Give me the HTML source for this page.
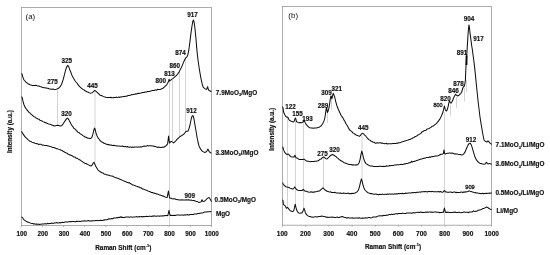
<!DOCTYPE html><html><head><meta charset="utf-8"><title>Raman spectra</title><style>html,body{margin:0;padding:0;background:#fff}svg{display:block}text{font-family:"Liberation Sans",Arial,sans-serif}</style></head><body>
<svg width="550" height="255" viewBox="0 0 550 255">
<rect width="550" height="255" fill="#fff"/>
<line x1="57.5" y1="90" x2="57.5" y2="125.5" stroke="#d3d3d3" stroke-width="1"/>
<line x1="95" y1="91.5" x2="95" y2="162.5" stroke="#d3d3d3" stroke-width="1"/>
<line x1="169.5" y1="80" x2="169.5" y2="225.5" stroke="#d3d3d3" stroke-width="1"/>
<line x1="172.5" y1="80" x2="172.5" y2="141" stroke="#d3d3d3" stroke-width="1"/>
<line x1="179.5" y1="72" x2="179.5" y2="137" stroke="#d3d3d3" stroke-width="1"/>
<line x1="185.5" y1="59" x2="185.5" y2="132" stroke="#d3d3d3" stroke-width="1"/>
<line x1="287.5" y1="118" x2="287.5" y2="208" stroke="#d3d3d3" stroke-width="1"/>
<line x1="295.5" y1="120" x2="295.5" y2="204.5" stroke="#d3d3d3" stroke-width="1"/>
<line x1="303.5" y1="121.5" x2="303.5" y2="208.5" stroke="#d3d3d3" stroke-width="1"/>
<line x1="327.5" y1="106" x2="327.5" y2="123" stroke="#d3d3d3" stroke-width="1"/>
<line x1="331.5" y1="97" x2="331.5" y2="110" stroke="#d3d3d3" stroke-width="1"/>
<line x1="323.5" y1="158" x2="323.5" y2="188" stroke="#d3d3d3" stroke-width="1"/>
<line x1="362" y1="135" x2="362" y2="180" stroke="#d3d3d3" stroke-width="1"/>
<line x1="444.5" y1="112" x2="444.5" y2="224.8" stroke="#d3d3d3" stroke-width="1"/>
<line x1="450.5" y1="105" x2="450.5" y2="115.6" stroke="#d3d3d3" stroke-width="1"/>
<line x1="456.5" y1="97" x2="456.5" y2="108" stroke="#d3d3d3" stroke-width="1"/>
<line x1="464.5" y1="88" x2="464.5" y2="101.6" stroke="#d3d3d3" stroke-width="1"/>
<line x1="466.5" y1="80" x2="466.5" y2="92" stroke="#d3d3d3" stroke-width="1"/>
<rect x="21.5" y="7.5" width="190" height="218.1" fill="none" stroke="#989898" stroke-width="0.8"/>
<rect x="282.5" y="6.4" width="209" height="218.8" fill="none" stroke="#989898" stroke-width="0.8"/>
<path d="M21.8,73.8 L22.2,74.6 L23.0,77.6 L24.0,80.0 L25.0,81.0 L26.0,82.1 L27.0,82.9 L28.0,83.7 L29.0,84.2 L30.0,84.7 L31.0,85.0 L32.0,85.4 L33.0,85.5 L34.0,85.4 L35.0,85.6 L36.0,85.3 L37.0,85.7 L38.0,85.9 L39.0,86.0 L40.0,86.5 L41.0,86.8 L42.0,87.2 L43.0,87.4 L44.0,87.7 L45.0,87.7 L46.0,88.0 L47.0,88.3 L48.0,88.3 L49.0,88.8 L50.0,89.0 L51.0,89.2 L52.0,89.2 L53.0,89.1 L54.0,89.3 L55.0,89.4 L56.0,89.3 L57.0,89.0 L58.5,88.3 L60.0,86.9 L61.5,84.5 L63.0,80.1 L64.4,74.9 L65.6,70.0 L66.8,66.6 L67.8,65.4 L68.7,66.6 L69.6,69.1 L70.8,72.2 L72.0,75.4 L73.0,77.3 L74.0,79.1 L75.0,80.7 L76.0,82.0 L77.0,83.0 L78.0,84.7 L79.0,85.8 L80.0,86.9 L81.0,87.9 L82.0,88.6 L83.0,89.4 L84.0,89.8 L85.0,90.8 L86.0,91.3 L86.8,91.7 L87.7,91.9 L88.5,92.5 L89.5,92.9 L90.6,93.4 L91.8,92.9 L92.9,92.1 L94.0,91.0 L94.8,90.5 L95.8,91.1 L96.9,92.1 L98.5,93.7 L100.0,95.2 L101.0,95.4 L102.0,95.7 L103.0,96.4 L104.0,96.8 L105.0,96.9 L106.0,97.2 L106.8,97.4 L107.6,97.6 L108.4,97.6 L109.2,97.6 L110.0,97.6 L110.8,97.3 L111.6,97.8 L112.4,97.8 L113.2,97.7 L114.0,97.5 L114.8,97.4 L115.6,97.6 L116.4,97.1 L117.2,97.3 L118.0,97.4 L118.8,97.0 L119.6,97.4 L120.4,97.1 L121.2,96.9 L122.0,96.8 L122.8,96.8 L123.6,96.6 L124.4,96.6 L125.2,96.2 L126.0,96.2 L126.8,96.2 L127.6,95.8 L128.4,95.4 L129.2,95.6 L130.0,95.3 L130.8,95.0 L131.7,94.6 L132.5,94.7 L133.3,94.5 L134.2,94.3 L135.0,94.3 L135.8,93.8 L136.7,94.1 L137.5,93.4 L138.3,93.3 L139.2,93.4 L140.0,93.2 L140.8,93.1 L141.7,92.8 L142.5,92.6 L143.3,92.5 L144.2,92.4 L145.0,92.1 L145.8,92.0 L146.7,91.9 L147.5,91.6 L148.3,91.6 L149.2,91.4 L150.0,91.2 L150.8,91.0 L151.7,90.7 L152.5,90.5 L153.3,90.4 L154.2,90.4 L155.0,90.1 L155.8,90.1 L156.7,90.2 L157.5,89.3 L158.3,89.4 L159.2,89.6 L160.0,89.4 L161.2,89.0 L162.3,88.6 L163.2,88.0 L164.2,87.2 L165.2,86.1 L166.2,85.4 L167.6,83.2 L168.6,81.2 L169.1,79.2 L169.6,81.0 L170.4,80.4 L171.4,79.6 L173.0,78.4 L174.5,77.2 L176.0,75.9 L177.5,74.3 L179.0,72.1 L180.5,69.3 L182.0,66.1 L183.5,62.4 L185.0,59.0 L186.0,57.6 L187.0,56.8 L188.0,54.1 L189.0,48.8 L190.0,41.1 L191.0,32.9 L192.0,26.0 L192.8,21.4 L193.4,20.0 L194.0,21.6 L194.8,27.0 L196.0,39.0 L197.0,51.1 L198.0,60.0 L199.0,67.0 L200.0,73.1 L201.0,78.6 L202.4,85.0 L203.2,87.2 L204.0,87.9 L205.2,88.9 L206.4,89.4 L207.0,88.4 L207.6,86.7 L208.1,88.5 L208.6,90.0 L209.8,90.8 L211.0,91.5" fill="none" stroke="#0c0c0c" stroke-width="1.02" stroke-linejoin="round" stroke-linecap="round"/>
<path d="M21.8,97.0 L22.3,98.0 L23.1,101.7 L23.9,104.5 L25.0,107.1 L26.5,109.3 L28.0,111.1 L29.0,112.3 L30.0,113.0 L31.0,114.1 L32.0,114.9 L33.0,115.8 L34.0,116.7 L35.0,117.0 L36.0,118.0 L37.0,118.5 L38.0,119.0 L39.0,119.2 L40.0,120.3 L41.0,120.6 L42.0,121.0 L43.0,121.6 L44.0,122.0 L45.0,122.7 L46.0,122.6 L47.0,123.3 L48.0,123.8 L49.0,124.1 L50.0,124.2 L50.8,124.4 L51.7,125.1 L52.5,125.2 L53.3,125.5 L54.2,126.0 L55.0,126.0 L56.5,125.4 L58.0,125.3 L59.5,125.7 L61.0,126.1 L62.0,125.4 L63.0,124.0 L64.3,122.0 L65.6,120.1 L66.6,118.6 L67.6,118.1 L68.8,119.6 L70.0,122.1 L71.0,124.0 L72.0,125.6 L73.0,126.8 L74.0,128.5 L75.0,129.0 L76.0,130.1 L77.0,131.2 L78.0,132.3 L79.0,132.6 L80.0,133.6 L81.0,134.2 L82.0,134.9 L83.0,135.6 L84.0,136.2 L85.0,137.1 L86.0,137.3 L87.0,137.8 L88.0,138.2 L89.0,138.3 L90.0,138.5 L91.0,138.2 L92.0,137.1 L92.8,134.4 L93.6,131.0 L94.2,128.9 L94.7,128.1 L95.3,130.0 L96.0,133.1 L97.0,135.8 L98.0,137.9 L99.0,139.0 L100.0,140.5 L101.0,141.4 L102.0,142.0 L103.0,142.5 L104.0,143.3 L105.0,143.5 L106.0,144.2 L107.0,144.3 L108.0,144.8 L108.8,144.5 L109.6,145.1 L110.4,145.0 L111.2,144.9 L112.0,145.5 L112.8,145.4 L113.6,145.2 L114.4,145.5 L115.2,145.8 L116.0,145.8 L116.8,146.0 L117.6,146.1 L118.4,146.1 L119.2,146.1 L120.0,146.2 L120.8,146.3 L121.7,146.3 L122.5,146.0 L123.3,146.6 L124.2,146.8 L125.0,146.6 L125.8,146.6 L126.7,147.1 L127.5,146.5 L128.3,147.0 L129.2,147.4 L130.0,146.9 L130.8,147.1 L131.7,147.4 L132.5,147.0 L133.3,147.2 L134.2,147.2 L135.0,147.0 L135.8,147.1 L136.7,147.1 L137.5,147.2 L138.3,147.0 L139.2,147.0 L140.0,146.9 L140.8,146.8 L141.7,146.9 L142.5,146.6 L143.3,146.2 L144.2,146.1 L145.0,146.3 L145.8,146.2 L146.7,146.0 L147.5,145.4 L148.3,145.9 L149.2,145.8 L150.0,145.7 L150.8,145.8 L151.7,145.9 L152.5,146.1 L153.3,145.9 L154.2,146.5 L155.0,146.5 L155.8,146.6 L156.7,147.1 L157.5,147.4 L158.3,147.0 L159.2,147.3 L160.0,147.6 L161.0,147.5 L162.0,147.3 L163.0,147.1 L164.0,147.2 L165.0,146.5 L166.5,145.4 L167.6,143.9 L168.1,140.1 L168.6,136.1 L169.1,140.1 L169.6,143.1 L170.5,141.9 L171.6,141.4 L172.6,142.2 L173.6,142.9 L175.0,141.6 L176.0,140.6 L177.0,139.3 L178.5,138.0 L180.0,136.6 L181.0,136.0 L182.0,135.3 L183.0,134.7 L184.0,134.0 L185.0,132.7 L186.0,131.4 L187.0,131.2 L188.0,131.0 L189.0,128.6 L190.0,125.0 L190.8,121.0 L191.6,117.4 L192.2,116.0 L192.7,115.6 L193.3,116.4 L194.0,119.0 L195.0,125.1 L196.0,131.0 L197.0,137.0 L198.0,142.0 L199.0,145.9 L200.5,148.9 L202.0,151.0 L203.5,151.9 L205.0,152.5 L206.0,151.9 L207.0,150.8 L207.6,149.5 L208.0,149.1 L208.6,150.6 L209.4,151.9 L210.2,152.5 L211.0,153.0" fill="none" stroke="#0c0c0c" stroke-width="1.02" stroke-linejoin="round" stroke-linecap="round"/>
<path d="M21.7,131.6 L22.3,132.8 L23.5,134.6 L24.7,136.4 L25.9,137.7 L26.8,138.4 L27.6,139.3 L28.5,140.1 L29.3,140.7 L30.1,141.2 L31.0,141.4 L31.8,142.1 L32.9,142.6 L33.9,142.8 L35.0,143.3 L35.9,143.5 L36.8,143.8 L37.8,143.8 L38.7,144.5 L39.6,144.3 L40.5,144.3 L41.4,144.6 L42.3,145.2 L43.2,144.9 L44.1,145.3 L45.0,145.4 L45.9,145.5 L46.8,145.4 L47.6,145.9 L48.5,146.1 L49.4,146.3 L50.3,146.6 L51.2,146.8 L52.2,147.2 L53.1,147.4 L54.0,147.6 L54.9,147.9 L55.7,148.2 L56.6,148.7 L57.5,148.7 L58.3,149.1 L59.2,149.5 L60.2,149.7 L61.1,150.3 L62.1,150.5 L63.0,151.2 L64.0,151.8 L64.8,152.3 L65.7,152.7 L66.5,153.1 L67.3,153.3 L68.2,154.3 L69.0,154.4 L69.8,155.0 L70.6,155.0 L71.4,155.6 L72.2,155.7 L73.0,156.5 L73.8,157.0 L74.7,156.9 L75.5,157.7 L76.3,158.2 L77.2,158.2 L78.0,158.9 L78.8,159.3 L79.6,159.8 L80.4,160.2 L81.2,160.9 L82.0,161.4 L82.8,162.0 L83.6,162.4 L84.4,163.0 L85.2,163.4 L86.0,163.5 L86.8,164.0 L87.7,164.3 L88.5,164.9 L89.3,165.3 L90.2,165.7 L91.0,166.0 L92.0,165.2 L93.0,163.5 L93.6,162.6 L94.1,162.4 L94.8,164.0 L95.6,166.0 L96.8,168.1 L98.0,170.1 L99.0,170.8 L100.0,171.5 L101.0,172.3 L102.0,172.8 L103.0,172.9 L104.0,173.9 L104.8,174.2 L105.6,174.2 L106.4,174.8 L107.2,175.0 L108.0,175.1 L108.8,175.3 L109.6,175.5 L110.4,175.8 L111.2,176.0 L112.0,176.0 L112.8,176.2 L113.6,176.7 L114.4,177.1 L115.2,177.6 L116.0,177.8 L116.8,178.0 L117.6,178.2 L118.4,178.6 L119.2,178.9 L120.0,179.2 L120.8,179.6 L121.7,179.9 L122.5,180.4 L123.3,180.8 L124.2,181.0 L125.0,181.6 L125.8,181.7 L126.7,182.3 L127.5,182.4 L128.3,182.9 L129.2,182.6 L130.0,183.3 L130.8,183.8 L131.7,184.2 L132.5,184.9 L133.3,184.9 L134.2,185.4 L135.0,185.6 L135.8,186.0 L136.7,186.3 L137.5,186.5 L138.3,187.0 L139.2,187.1 L140.0,187.7 L140.8,187.8 L141.7,188.3 L142.5,189.0 L143.3,189.0 L144.2,189.4 L145.0,189.8 L145.8,190.0 L146.7,190.2 L147.5,190.7 L148.3,191.1 L149.2,191.5 L150.0,191.6 L150.8,192.3 L151.7,192.6 L152.5,192.6 L153.3,192.9 L154.2,193.0 L155.0,193.5 L155.8,193.5 L156.7,194.1 L157.5,194.1 L158.3,194.3 L159.2,194.9 L160.0,195.1 L160.8,195.3 L161.6,195.4 L162.4,196.0 L163.2,196.1 L164.0,196.4 L165.1,197.0 L166.1,197.3 L167.2,197.5 L167.8,194.2 L168.4,191.0 L169.0,194.6 L169.6,198.0 L170.4,198.2 L171.2,198.1 L172.0,198.7 L172.8,199.0 L173.6,198.7 L174.4,198.8 L175.2,198.9 L176.0,199.5 L176.8,199.5 L177.6,199.7 L178.4,199.8 L179.2,199.9 L180.0,200.0 L180.9,200.1 L181.9,199.8 L182.8,200.0 L183.8,200.0 L184.7,199.9 L185.6,199.9 L186.6,199.7 L187.5,199.9 L188.5,199.8 L189.4,200.0 L190.3,200.2 L191.1,200.1 L192.0,200.3 L193.1,200.4 L194.1,200.6 L195.1,200.9 L196.0,201.3 L197.0,201.5 L197.9,201.9 L198.7,202.4 L199.6,202.2 L200.6,202.0 L201.3,201.6 L201.7,200.3 L202.0,199.8 L202.4,200.6 L202.9,201.6 L204.0,201.2 L205.1,200.7 L206.3,199.5 L207.5,198.3 L208.3,197.9 L209.0,197.5 L209.6,198.1 L210.1,199.1 L210.8,200.3 L211.3,201.4" fill="none" stroke="#0c0c0c" stroke-width="1.02" stroke-linejoin="round" stroke-linecap="round"/>
<path d="M21.8,217.0 L22.4,217.6 L23.0,218.6 L24.1,219.8 L25.1,220.6 L26.0,221.2 L27.1,221.8 L28.1,222.2 L29.1,222.3 L30.0,222.9 L31.0,223.3 L32.0,223.5 L32.8,223.6 L33.6,223.9 L34.4,223.7 L35.2,224.1 L36.0,224.2 L36.8,224.0 L37.6,224.2 L38.4,224.1 L39.2,224.5 L40.0,224.2 L41.0,224.3 L42.0,224.0 L43.0,224.1 L44.0,224.0 L45.0,223.6 L46.0,223.9 L46.8,223.9 L47.6,223.3 L48.4,223.7 L49.2,223.5 L50.0,223.4 L50.8,223.4 L51.7,223.0 L52.5,223.2 L53.3,223.4 L54.2,223.0 L55.0,222.9 L55.8,222.7 L56.7,222.6 L57.5,222.9 L58.3,223.0 L59.2,222.7 L60.0,222.6 L60.9,222.9 L61.7,222.4 L62.6,222.3 L63.4,222.4 L64.3,222.3 L65.1,222.0 L66.0,222.0 L66.9,222.1 L67.7,222.0 L68.6,221.7 L69.4,221.8 L70.3,221.6 L71.1,221.8 L72.0,221.6 L72.9,221.5 L73.8,221.5 L74.6,221.7 L75.5,221.7 L76.4,221.3 L77.2,221.5 L78.1,221.2 L79.0,221.3 L79.9,221.4 L80.8,221.5 L81.6,221.1 L82.5,221.1 L83.4,221.1 L84.2,220.8 L85.1,221.0 L86.0,221.0 L86.9,221.0 L87.8,220.7 L88.6,220.6 L89.5,220.9 L90.4,220.9 L91.2,220.8 L92.1,221.0 L93.0,220.8 L93.9,220.7 L94.8,220.8 L95.6,220.4 L96.5,220.5 L97.4,220.6 L98.2,220.7 L99.1,220.5 L100.0,220.5 L100.8,220.3 L101.6,220.4 L102.4,220.6 L103.2,220.1 L104.0,220.3 L104.8,219.8 L105.6,219.8 L106.4,219.7 L107.2,219.7 L108.0,219.3 L109.0,218.8 L110.0,219.0 L111.0,218.8 L112.0,218.6 L113.0,218.7 L114.0,218.0 L115.0,217.9 L116.0,217.9 L117.0,217.6 L118.0,217.8 L119.0,217.2 L120.0,217.4 L120.8,216.7 L121.7,217.5 L122.5,217.2 L123.3,217.4 L124.2,217.6 L125.0,217.2 L125.8,217.1 L126.7,217.1 L127.5,217.0 L128.3,217.0 L129.2,217.2 L130.0,217.1 L130.8,217.1 L131.7,217.0 L132.5,217.2 L133.3,217.1 L134.2,216.9 L135.0,216.9 L135.8,216.8 L136.7,216.6 L137.5,217.1 L138.3,216.9 L139.2,216.6 L140.0,216.8 L140.8,216.7 L141.7,216.4 L142.5,216.9 L143.3,216.6 L144.2,216.7 L145.0,216.5 L145.8,216.4 L146.7,216.2 L147.5,216.6 L148.3,216.4 L149.2,216.3 L150.0,216.3 L150.8,216.3 L151.7,216.4 L152.5,216.1 L153.3,216.2 L154.2,215.7 L155.0,216.1 L155.8,216.2 L156.7,216.3 L157.5,215.9 L158.3,215.9 L159.2,216.2 L160.0,215.9 L160.8,216.0 L161.6,216.1 L162.4,215.8 L163.2,216.0 L164.0,215.6 L164.9,215.7 L165.9,215.6 L166.9,215.6 L167.8,215.7 L168.4,213.2 L169.0,210.4 L169.5,213.0 L170.1,215.4 L170.9,215.2 L171.7,215.5 L172.6,215.5 L173.4,215.3 L174.2,215.4 L175.0,215.2 L175.8,215.4 L176.7,215.0 L177.5,215.1 L178.3,215.1 L179.2,215.1 L180.0,215.2 L180.8,215.1 L181.7,214.9 L182.5,215.0 L183.3,215.2 L184.2,214.9 L185.0,214.8 L185.8,215.0 L186.7,214.8 L187.5,214.5 L188.3,215.1 L189.2,215.0 L190.0,214.5 L190.8,214.5 L191.7,214.5 L192.5,214.5 L193.3,214.4 L194.2,214.1 L195.0,214.0 L195.8,214.0 L196.7,214.1 L197.5,213.6 L198.3,213.4 L199.2,213.5 L200.0,213.3 L201.0,213.1 L202.0,212.9 L203.0,212.7 L204.0,212.3 L205.0,212.1 L206.0,212.0 L206.8,211.9 L207.7,211.7 L208.5,211.7 L209.3,211.7 L210.2,211.7 L211.0,211.5" fill="none" stroke="#0c0c0c" stroke-width="1.02" stroke-linejoin="round" stroke-linecap="round"/>
<path d="M282.8,107.0 L283.0,107.9 L283.6,112.0 L284.2,113.6 L285.0,115.1 L285.8,116.4 L286.6,117.1 L287.3,117.0 L288.0,117.5 L288.7,119.2 L289.4,120.2 L290.6,120.9 L292.0,121.4 L293.0,122.1 L293.8,121.8 L294.4,120.7 L294.9,118.8 L295.4,118.0 L295.9,119.2 L296.6,121.8 L298.0,122.4 L299.0,122.7 L300.0,122.6 L301.5,122.7 L302.6,122.3 L303.3,121.7 L304.1,120.1 L304.7,121.5 L305.3,122.9 L306.0,124.1 L306.8,125.2 L308.0,126.5 L309.2,127.4 L310.1,127.7 L311.0,127.9 L312.1,128.0 L313.3,128.3 L314.4,128.1 L315.5,128.1 L316.3,128.1 L317.2,127.8 L318.0,127.6 L319.0,127.2 L320.0,126.6 L321.0,126.0 L322.5,124.0 L324.0,120.9 L324.8,118.2 L325.4,114.5 L326.0,109.9 L326.5,107.5 L326.9,110.0 L327.4,112.4 L328.0,111.4 L328.7,108.9 L329.4,105.4 L329.9,102.0 L330.4,98.3 L330.9,95.9 L331.4,96.6 L331.9,98.8 L332.5,96.2 L333.2,93.3 L333.9,94.8 L334.7,97.0 L335.8,101.8 L337.0,106.0 L338.5,109.8 L340.0,113.0 L341.0,115.2 L342.0,116.6 L343.0,118.0 L344.0,120.1 L345.0,121.5 L346.0,123.7 L347.0,125.2 L348.0,127.0 L349.0,128.9 L350.0,130.4 L350.8,130.8 L351.7,131.4 L352.5,132.5 L353.3,133.1 L354.2,133.5 L355.0,134.3 L355.8,134.8 L356.7,135.2 L357.5,135.4 L358.4,135.9 L359.2,136.4 L360.3,135.6 L361.3,134.3 L362.1,133.3 L362.7,133.3 L363.6,133.9 L364.7,135.1 L365.6,135.8 L366.5,137.0 L367.6,138.3 L368.8,139.6 L369.9,140.1 L370.9,141.1 L372.0,141.5 L372.9,142.0 L373.9,142.3 L374.8,142.8 L375.7,143.2 L376.9,142.8 L378.0,143.1 L378.8,143.0 L379.7,142.8 L380.5,142.8 L381.4,143.2 L382.2,143.0 L383.1,143.3 L384.0,143.5 L384.8,143.7 L385.6,143.6 L386.4,143.3 L387.2,144.0 L388.0,143.8 L388.8,143.8 L389.6,143.7 L390.4,143.8 L391.2,143.7 L392.0,143.7 L392.8,143.6 L393.6,143.6 L394.4,143.5 L395.2,143.4 L396.0,143.5 L396.8,143.1 L397.6,143.3 L398.4,142.8 L399.2,142.8 L400.0,142.7 L400.8,142.4 L401.6,141.9 L402.4,141.8 L403.2,141.6 L404.0,141.2 L404.8,140.9 L405.6,140.8 L406.4,140.4 L407.2,140.3 L408.0,140.1 L408.8,139.8 L409.6,139.6 L410.4,139.2 L411.2,138.7 L412.0,138.5 L412.8,138.0 L413.6,137.6 L414.4,137.2 L415.2,136.5 L416.0,136.4 L416.8,135.9 L417.6,135.2 L418.4,134.8 L419.2,134.4 L420.0,133.8 L420.9,133.4 L421.9,131.9 L422.9,131.6 L423.8,130.8 L424.9,130.5 L425.9,130.3 L427.0,129.1 L428.0,128.9 L429.0,128.5 L430.0,127.9 L431.0,127.4 L432.0,126.3 L433.0,126.2 L434.0,125.4 L435.0,124.6 L436.0,123.8 L437.1,122.6 L438.3,121.2 L439.1,120.1 L440.0,118.9 L441.5,115.8 L443.0,112.0 L443.8,108.5 L444.4,106.1 L444.9,107.9 L445.4,110.0 L446.0,110.8 L446.6,111.0 L447.3,109.5 L448.0,107.1 L448.7,103.7 L449.4,100.9 L450.2,102.3 L451.0,103.1 L451.7,102.3 L452.4,101.1 L453.2,99.0 L454.0,96.9 L454.8,95.5 L455.6,94.3 L456.6,95.3 L457.6,95.9 L458.6,95.6 L459.6,94.5 L460.6,93.6 L461.6,92.3 L462.3,90.0 L463.0,87.5 L463.7,86.6 L464.4,86.0 L464.9,83.4 L465.4,80.1 L466.0,66.0 L466.5,59.0 L467.0,51.0 L467.5,43.0 L468.0,35.0 L468.5,28.5 L469.0,24.9 L469.5,27.8 L470.0,32.9 L470.8,38.9 L471.6,45.0 L472.4,50.0 L473.2,56.0 L474.0,62.0 L474.8,68.9 L475.6,76.9 L476.3,83.8 L477.0,91.0 L477.7,97.5 L478.4,104.0 L479.2,110.5 L480.0,117.0 L480.8,122.1 L481.6,127.0 L482.3,131.1 L483.0,135.0 L484.0,140.0 L485.5,141.5 L487.0,142.0 L487.6,141.2 L488.0,140.9 L489.0,141.9 L490.0,143.1 L491.4,144.1" fill="none" stroke="#0c0c0c" stroke-width="1.02" stroke-linejoin="round" stroke-linecap="round"/>
<path d="M282.8,147.0 L283.0,148.0 L283.8,150.4 L284.6,152.1 L285.8,153.7 L287.0,154.7 L287.7,154.0 L288.4,154.0 L289.5,155.5 L291.0,156.7 L292.5,157.0 L294.0,156.9 L294.5,155.9 L295.0,155.4 L295.5,156.4 L296.0,157.7 L297.0,158.0 L298.0,158.7 L299.0,159.4 L300.0,159.5 L301.0,159.5 L302.0,159.4 L303.0,159.5 L304.0,159.1 L305.0,159.8 L306.0,160.7 L306.8,160.9 L307.7,161.2 L308.5,161.3 L309.3,161.5 L310.2,161.7 L311.0,161.5 L312.0,161.6 L313.0,161.6 L314.0,161.5 L315.0,161.3 L316.0,161.3 L317.0,161.1 L318.0,160.7 L319.0,160.2 L320.0,159.3 L321.0,159.1 L322.2,157.8 L323.4,157.0 L324.2,157.2 L325.0,158.0 L326.0,158.7 L327.0,159.0 L328.5,157.6 L330.0,156.0 L331.3,155.0 L332.6,154.5 L333.8,155.2 L335.0,156.0 L336.0,156.5 L337.0,157.7 L338.0,158.4 L339.0,159.3 L340.0,160.0 L341.0,160.8 L342.0,161.3 L343.0,161.9 L344.0,162.7 L345.0,163.0 L345.9,163.3 L346.8,163.6 L347.6,163.9 L348.5,164.2 L349.4,164.5 L350.2,164.6 L351.1,164.4 L352.0,165.0 L353.0,164.8 L354.0,165.1 L355.0,165.0 L356.0,164.8 L357.1,165.0 L358.1,164.3 L359.2,162.5 L360.1,159.3 L360.9,154.8 L361.8,151.1 L362.6,154.0 L363.5,157.8 L364.2,160.1 L364.9,161.9 L366.0,163.6 L366.9,164.1 L367.7,164.8 L369.0,165.4 L369.8,165.8 L370.6,166.1 L371.4,166.1 L372.2,166.1 L373.0,166.2 L373.8,166.6 L374.6,166.6 L375.4,166.4 L376.2,166.6 L377.0,166.6 L377.8,166.5 L378.6,166.4 L379.4,166.2 L380.2,166.3 L381.0,166.2 L381.9,166.5 L382.8,166.4 L383.7,166.2 L384.6,166.5 L385.5,166.4 L386.3,165.8 L387.1,166.3 L388.0,165.9 L388.8,166.1 L389.6,165.4 L390.4,165.7 L391.2,165.6 L392.0,165.4 L392.8,165.4 L393.6,165.4 L394.4,164.9 L395.2,164.9 L396.0,164.9 L396.8,164.8 L397.6,164.7 L398.4,164.8 L399.2,164.7 L400.0,164.6 L400.8,164.4 L401.6,164.3 L402.4,164.4 L403.2,164.3 L404.0,164.0 L404.8,163.8 L405.6,163.9 L406.4,163.4 L407.2,163.4 L408.0,163.2 L409.0,162.8 L410.0,162.8 L411.0,162.3 L411.6,161.3 L412.2,162.2 L413.1,161.6 L414.1,161.6 L415.1,161.0 L416.0,160.9 L416.8,160.4 L417.6,160.2 L418.4,160.0 L419.2,159.6 L420.0,159.4 L420.8,159.1 L421.6,159.1 L422.4,158.7 L423.2,158.6 L424.0,158.1 L424.8,158.3 L425.6,157.9 L426.4,157.4 L427.2,157.6 L428.0,157.4 L428.8,157.4 L429.6,156.9 L430.4,157.2 L431.2,156.7 L432.0,156.8 L432.8,156.5 L433.6,156.5 L434.4,156.2 L435.2,155.9 L436.0,156.1 L437.0,155.9 L438.0,155.7 L439.0,155.3 L440.0,154.8 L441.0,154.3 L442.0,154.3 L443.4,153.6 L444.0,149.9 L444.6,153.4 L445.4,154.0 L446.4,153.6 L447.5,153.3 L448.3,153.2 L449.2,153.1 L450.0,153.1 L451.0,153.3 L452.0,153.1 L453.0,153.3 L454.0,153.9 L455.0,153.8 L456.0,154.1 L457.0,153.9 L458.0,154.3 L459.0,154.5 L460.0,154.4 L461.0,154.7 L462.0,155.1 L463.5,154.1 L465.0,152.1 L466.5,148.5 L468.0,145.1 L469.0,143.6 L470.0,143.1 L471.0,144.4 L472.0,146.9 L473.5,152.1 L475.0,157.1 L476.5,159.9 L478.0,162.0 L479.0,162.7 L480.0,163.4 L481.0,163.5 L482.0,163.9 L483.0,164.1 L484.0,164.2 L485.0,164.1 L485.8,163.2 L486.4,162.2 L487.2,163.2 L488.0,164.0 L489.0,163.6 L489.6,163.5 L490.5,163.9 L491.4,164.1" fill="none" stroke="#0c0c0c" stroke-width="1.02" stroke-linejoin="round" stroke-linecap="round"/>
<path d="M282.8,183.0 L283.0,183.7 L284.0,185.1 L285.0,186.0 L286.0,186.8 L287.0,186.9 L288.0,187.2 L289.0,187.5 L290.0,188.1 L291.0,188.6 L291.8,188.8 L292.6,189.0 L293.5,188.8 L294.2,187.8 L294.8,186.9 L295.5,188.1 L296.5,189.5 L298.0,190.2 L299.5,190.6 L301.0,190.6 L302.0,190.5 L302.7,190.0 L303.3,189.3 L304.1,190.4 L305.0,191.2 L305.9,191.2 L306.7,191.3 L307.5,191.7 L308.4,192.1 L309.3,192.2 L310.2,192.1 L311.1,191.8 L312.0,192.2 L313.0,191.9 L314.0,192.2 L315.0,191.7 L316.0,191.7 L317.0,191.6 L318.0,191.3 L319.0,191.1 L319.8,190.7 L320.6,190.0 L321.8,188.8 L323.0,187.9 L324.0,188.8 L325.0,190.0 L326.0,190.5 L327.0,191.3 L328.0,191.5 L329.0,191.9 L329.8,191.9 L330.7,191.8 L331.5,192.4 L332.3,192.6 L333.2,192.5 L334.0,192.5 L334.8,192.2 L335.7,192.8 L336.5,193.0 L337.3,192.9 L338.2,193.1 L339.0,193.1 L339.9,193.3 L340.7,193.0 L341.6,193.4 L342.4,193.4 L343.3,193.0 L344.1,193.3 L345.0,193.3 L345.9,193.4 L346.7,193.6 L347.6,193.3 L348.4,193.1 L349.3,193.8 L350.1,193.6 L351.0,193.7 L352.0,193.2 L353.0,193.5 L354.0,193.3 L355.0,193.2 L356.0,192.4 L357.0,192.0 L358.4,190.0 L359.4,187.1 L360.4,182.6 L361.4,179.0 L362.2,181.4 L363.0,185.1 L364.0,188.0 L365.0,190.0 L366.0,191.0 L367.0,192.0 L368.0,192.7 L369.0,193.0 L369.8,193.2 L370.6,193.7 L371.4,193.4 L372.2,193.8 L373.0,194.0 L373.8,194.2 L374.6,194.2 L375.4,194.0 L376.2,194.1 L377.0,194.4 L377.9,194.5 L378.8,194.9 L379.6,194.2 L380.5,194.6 L381.4,194.5 L382.2,194.1 L383.1,194.3 L384.0,194.4 L384.9,194.3 L385.7,194.3 L386.6,194.4 L387.4,194.1 L388.3,194.3 L389.1,194.0 L390.0,194.1 L390.8,194.2 L391.7,193.9 L392.5,194.0 L393.3,194.2 L394.2,193.9 L395.0,193.8 L395.8,193.9 L396.7,193.7 L397.5,193.9 L398.3,193.5 L399.2,193.8 L400.0,193.6 L400.8,193.4 L401.7,193.8 L402.5,193.3 L403.3,193.7 L404.2,193.4 L405.0,193.5 L405.8,193.0 L406.7,193.3 L407.5,193.3 L408.3,193.0 L409.2,192.9 L410.0,193.1 L410.8,192.9 L411.7,192.7 L412.5,192.6 L413.3,192.7 L414.2,192.6 L415.0,192.5 L415.8,192.7 L416.7,192.2 L417.5,192.3 L418.3,192.4 L419.2,191.9 L420.0,192.1 L420.8,192.3 L421.7,191.7 L422.5,191.7 L423.3,191.7 L424.2,191.5 L425.0,191.9 L425.8,191.4 L426.7,191.8 L427.5,192.0 L428.3,191.4 L429.2,191.6 L430.0,191.5 L430.9,191.8 L431.8,191.5 L432.6,191.6 L433.5,191.7 L434.4,191.8 L435.2,191.7 L436.1,191.8 L437.0,191.8 L437.9,191.8 L438.8,191.6 L439.7,191.9 L440.5,191.6 L441.4,191.9 L442.3,192.3 L443.2,192.0 L443.8,191.1 L444.4,190.6 L445.0,191.2 L445.6,191.9 L446.5,191.9 L447.4,192.2 L448.3,192.2 L449.3,192.2 L450.2,192.0 L451.1,192.1 L452.0,192.4 L452.8,192.4 L453.6,192.1 L454.4,192.0 L455.2,192.1 L456.0,192.8 L456.8,192.2 L457.6,192.4 L458.4,192.4 L459.2,192.4 L460.0,192.4 L460.9,192.1 L461.7,192.1 L462.6,192.5 L463.4,192.0 L464.3,192.3 L465.1,191.8 L466.0,192.0 L467.0,191.7 L468.0,191.5 L468.8,191.0 L469.6,191.0 L470.6,191.4 L471.5,191.6 L472.3,192.1 L473.2,192.1 L474.0,192.5 L474.8,192.7 L475.6,192.4 L476.4,192.9 L477.2,192.9 L478.0,193.1 L478.8,193.2 L479.6,193.5 L480.4,193.4 L481.2,193.7 L482.0,193.5 L482.8,193.3 L483.6,193.8 L484.4,193.5 L485.2,193.5 L486.0,193.2 L486.9,193.4 L487.8,193.2 L488.7,193.3 L489.6,193.1 L490.5,193.3 L491.4,193.0" fill="none" stroke="#0c0c0c" stroke-width="1.02" stroke-linejoin="round" stroke-linecap="round"/>
<path d="M282.8,200.0 L283.0,200.9 L283.3,203.4 L283.6,204.7 L284.5,205.3 L285.3,205.9 L285.9,207.2 L286.4,208.3 L287.0,207.7 L287.7,207.5 L288.5,208.6 L289.3,209.7 L290.0,210.3 L291.0,211.1 L292.1,211.5 L293.2,211.2 L294.0,209.9 L294.6,207.0 L295.2,204.2 L295.8,206.8 L296.6,209.8 L297.5,211.9 L298.7,212.9 L300.2,213.2 L301.0,213.1 L301.8,213.0 L302.5,212.1 L303.1,210.7 L303.6,209.3 L304.0,208.2 L304.6,209.9 L305.3,212.4 L306.2,214.2 L307.3,215.4 L308.1,215.9 L309.0,216.4 L310.1,216.5 L311.2,217.1 L312.1,216.9 L313.1,217.2 L314.0,217.1 L315.0,216.7 L316.0,216.8 L317.0,217.1 L318.0,216.8 L319.0,216.6 L320.0,216.5 L321.0,216.2 L322.0,216.0 L322.8,216.2 L323.7,216.4 L324.5,216.6 L325.3,216.7 L326.2,217.2 L327.0,217.1 L327.9,217.4 L328.7,217.3 L329.6,217.2 L330.4,217.2 L331.3,217.2 L332.1,217.1 L333.0,217.3 L333.9,217.2 L334.7,217.6 L335.6,217.4 L336.4,217.3 L337.3,217.0 L338.1,217.4 L339.0,217.4 L340.5,216.9 L342.0,216.5 L343.5,217.0 L345.0,217.6 L345.8,217.6 L346.7,218.2 L347.5,217.7 L348.3,217.8 L349.2,218.1 L350.0,217.9 L350.8,217.9 L351.7,217.9 L352.5,217.8 L353.3,218.2 L354.2,218.2 L355.0,218.1 L355.8,218.0 L356.7,218.0 L357.5,217.9 L358.3,218.2 L359.2,217.8 L360.0,218.1 L360.8,218.3 L361.7,218.3 L362.5,217.9 L363.3,218.2 L364.2,217.9 L365.0,217.9 L365.8,217.7 L366.7,218.1 L367.5,218.1 L368.3,217.6 L369.2,217.5 L370.0,217.6 L370.8,218.0 L371.7,217.6 L372.5,217.2 L373.3,216.9 L374.2,217.0 L375.0,217.1 L376.0,217.1 L377.0,216.5 L378.0,216.1 L379.0,216.0 L380.0,215.6 L381.0,216.0 L382.0,215.6 L382.9,215.9 L383.7,215.3 L384.6,215.5 L385.5,215.5 L386.4,215.1 L387.3,215.2 L388.2,214.9 L389.1,214.6 L390.0,214.6 L390.8,214.7 L391.7,214.1 L392.5,214.6 L393.3,214.3 L394.2,214.2 L395.0,213.9 L395.8,213.8 L396.7,213.8 L397.5,214.0 L398.3,213.5 L399.2,213.5 L400.0,213.5 L400.8,213.5 L401.7,213.6 L402.5,213.1 L403.3,213.3 L404.2,213.4 L405.0,213.4 L405.8,213.4 L406.7,213.1 L407.5,212.9 L408.3,212.9 L409.2,212.9 L410.0,213.0 L410.8,212.9 L411.7,213.2 L412.5,212.9 L413.3,212.6 L414.2,213.0 L415.0,212.8 L415.8,212.7 L416.7,212.5 L417.5,212.2 L418.3,212.3 L419.2,212.6 L420.0,212.3 L420.8,212.1 L421.7,212.4 L422.5,212.3 L423.3,212.4 L424.2,212.4 L425.0,212.3 L425.8,212.0 L426.7,212.3 L427.5,211.9 L428.3,212.2 L429.2,212.1 L430.0,212.0 L430.9,212.2 L431.8,212.0 L432.6,212.3 L433.5,212.3 L434.4,212.1 L435.2,212.0 L436.1,212.0 L437.0,212.2 L437.9,212.2 L438.8,212.3 L439.7,212.8 L440.7,212.4 L441.6,212.5 L442.5,212.2 L443.4,212.3 L443.9,210.0 L444.4,208.0 L444.9,210.1 L445.5,212.5 L446.3,212.3 L447.1,212.6 L447.9,212.0 L448.8,212.4 L449.6,212.5 L450.4,212.5 L451.2,212.6 L452.0,212.5 L452.8,212.5 L453.6,212.1 L454.4,212.3 L455.2,212.0 L456.0,212.6 L456.8,212.5 L457.6,212.4 L458.4,212.3 L459.2,212.3 L460.0,212.5 L460.9,212.7 L461.7,212.4 L462.6,212.6 L463.4,212.1 L464.3,212.0 L465.1,212.2 L466.0,212.2 L466.9,212.2 L467.7,212.2 L468.6,212.7 L469.4,212.0 L470.3,212.1 L471.1,212.1 L472.0,212.0 L473.0,211.5 L473.6,210.7 L474.2,211.1 L475.0,211.6 L475.8,211.3 L476.7,211.2 L477.5,210.8 L478.3,210.3 L479.2,209.9 L480.0,210.0 L481.0,209.6 L482.0,209.2 L483.0,208.4 L484.0,208.4 L485.5,207.6 L487.0,207.1 L488.0,207.7 L489.0,208.5 L490.0,209.0 L491.4,209.6" fill="none" stroke="#0c0c0c" stroke-width="1.02" stroke-linejoin="round" stroke-linecap="round"/>
<line x1="21.4" y1="225.6" x2="21.4" y2="227.2" stroke="#9a9a9a" stroke-width="0.7"/>
<line x1="282.5" y1="225.2" x2="282.5" y2="226.8" stroke="#9a9a9a" stroke-width="0.7"/>
<line x1="42.5" y1="225.6" x2="42.5" y2="227.2" stroke="#9a9a9a" stroke-width="0.7"/>
<line x1="305.7" y1="225.2" x2="305.7" y2="226.8" stroke="#9a9a9a" stroke-width="0.7"/>
<line x1="63.6" y1="225.6" x2="63.6" y2="227.2" stroke="#9a9a9a" stroke-width="0.7"/>
<line x1="328.9" y1="225.2" x2="328.9" y2="226.8" stroke="#9a9a9a" stroke-width="0.7"/>
<line x1="84.7" y1="225.6" x2="84.7" y2="227.2" stroke="#9a9a9a" stroke-width="0.7"/>
<line x1="352.2" y1="225.2" x2="352.2" y2="226.8" stroke="#9a9a9a" stroke-width="0.7"/>
<line x1="105.8" y1="225.6" x2="105.8" y2="227.2" stroke="#9a9a9a" stroke-width="0.7"/>
<line x1="375.4" y1="225.2" x2="375.4" y2="226.8" stroke="#9a9a9a" stroke-width="0.7"/>
<line x1="126.9" y1="225.6" x2="126.9" y2="227.2" stroke="#9a9a9a" stroke-width="0.7"/>
<line x1="398.6" y1="225.2" x2="398.6" y2="226.8" stroke="#9a9a9a" stroke-width="0.7"/>
<line x1="148.1" y1="225.6" x2="148.1" y2="227.2" stroke="#9a9a9a" stroke-width="0.7"/>
<line x1="421.8" y1="225.2" x2="421.8" y2="226.8" stroke="#9a9a9a" stroke-width="0.7"/>
<line x1="169.2" y1="225.6" x2="169.2" y2="227.2" stroke="#9a9a9a" stroke-width="0.7"/>
<line x1="445.0" y1="225.2" x2="445.0" y2="226.8" stroke="#9a9a9a" stroke-width="0.7"/>
<line x1="190.3" y1="225.6" x2="190.3" y2="227.2" stroke="#9a9a9a" stroke-width="0.7"/>
<line x1="468.3" y1="225.2" x2="468.3" y2="226.8" stroke="#9a9a9a" stroke-width="0.7"/>
<line x1="211.4" y1="225.6" x2="211.4" y2="227.2" stroke="#9a9a9a" stroke-width="0.7"/>
<line x1="491.5" y1="225.2" x2="491.5" y2="226.8" stroke="#9a9a9a" stroke-width="0.7"/>
<line x1="466.6" y1="55.5" x2="466.45" y2="65" stroke="#0a0a0a" stroke-width="1.9"/>
<text x="21.7" y="235.6" font-size="6.3" font-weight="bold" text-anchor="middle" fill="#111" stroke="#111" stroke-width="0.16" >100</text>
<text x="42.8" y="235.6" font-size="6.3" font-weight="bold" text-anchor="middle" fill="#111" stroke="#111" stroke-width="0.16" >200</text>
<text x="63.9" y="235.6" font-size="6.3" font-weight="bold" text-anchor="middle" fill="#111" stroke="#111" stroke-width="0.16" >300</text>
<text x="85.0" y="235.6" font-size="6.3" font-weight="bold" text-anchor="middle" fill="#111" stroke="#111" stroke-width="0.16" >400</text>
<text x="106.1" y="235.6" font-size="6.3" font-weight="bold" text-anchor="middle" fill="#111" stroke="#111" stroke-width="0.16" >500</text>
<text x="127.2" y="235.6" font-size="6.3" font-weight="bold" text-anchor="middle" fill="#111" stroke="#111" stroke-width="0.16" >600</text>
<text x="148.3" y="235.6" font-size="6.3" font-weight="bold" text-anchor="middle" fill="#111" stroke="#111" stroke-width="0.16" >700</text>
<text x="169.4" y="235.6" font-size="6.3" font-weight="bold" text-anchor="middle" fill="#111" stroke="#111" stroke-width="0.16" >800</text>
<text x="190.5" y="235.6" font-size="6.3" font-weight="bold" text-anchor="middle" fill="#111" stroke="#111" stroke-width="0.16" >900</text>
<text x="211.7" y="235.6" font-size="6.3" font-weight="bold" text-anchor="middle" fill="#111" stroke="#111" stroke-width="0.16" >1000</text>
<text x="282.3" y="235.5" font-size="6.5" font-weight="bold" text-anchor="middle" fill="#111" stroke="#111" stroke-width="0.16" >100</text>
<text x="305.5" y="235.5" font-size="6.5" font-weight="bold" text-anchor="middle" fill="#111" stroke="#111" stroke-width="0.16" >200</text>
<text x="328.7" y="235.5" font-size="6.5" font-weight="bold" text-anchor="middle" fill="#111" stroke="#111" stroke-width="0.16" >300</text>
<text x="351.9" y="235.5" font-size="6.5" font-weight="bold" text-anchor="middle" fill="#111" stroke="#111" stroke-width="0.16" >400</text>
<text x="375.1" y="235.5" font-size="6.5" font-weight="bold" text-anchor="middle" fill="#111" stroke="#111" stroke-width="0.16" >500</text>
<text x="398.3" y="235.5" font-size="6.5" font-weight="bold" text-anchor="middle" fill="#111" stroke="#111" stroke-width="0.16" >600</text>
<text x="421.5" y="235.5" font-size="6.5" font-weight="bold" text-anchor="middle" fill="#111" stroke="#111" stroke-width="0.16" >700</text>
<text x="444.7" y="235.5" font-size="6.5" font-weight="bold" text-anchor="middle" fill="#111" stroke="#111" stroke-width="0.16" >800</text>
<text x="467.9" y="235.5" font-size="6.5" font-weight="bold" text-anchor="middle" fill="#111" stroke="#111" stroke-width="0.16" >900</text>
<text x="491.7" y="235.5" font-size="6.5" font-weight="bold" text-anchor="middle" fill="#111" stroke="#111" stroke-width="0.16" >1000</text>
<text x="123.3" y="249.7" font-size="6.4" font-weight="bold" text-anchor="middle" fill="#111" stroke="#111" stroke-width="0.16" >Raman Shift (cm<tspan font-size="4" dy="-2.4">-1</tspan><tspan dy="2.4">)</tspan></text>
<text x="393" y="248.8" font-size="6.4" font-weight="bold" text-anchor="middle" fill="#111" stroke="#111" stroke-width="0.16" >Raman Shift (cm<tspan font-size="4" dy="-2.4">-1</tspan><tspan dy="2.4">)</tspan></text>
<text transform="translate(12.3,131.6) rotate(-90)" font-size="6.3" font-weight="bold" text-anchor="middle" fill="#111" stroke="#111" stroke-width="0.16">Intensity (a.u.)</text>
<text transform="translate(273.7,129.3) rotate(-90)" font-size="6.3" font-weight="bold" text-anchor="middle" fill="#111" stroke="#111" stroke-width="0.16">Intensity (a.u.)</text>
<text x="30.4" y="18.5" font-size="7.9" font-weight="normal" text-anchor="middle" fill="#111"  >(a)</text>
<text x="293.2" y="17.6" font-size="7.9" font-weight="normal" text-anchor="middle" fill="#111"  >(b)</text>
<text x="66.8" y="63.3" font-size="6.3" font-weight="bold" text-anchor="middle" fill="#111" stroke="#111" stroke-width="0.16" >325</text>
<text x="52.6" y="84.3" font-size="6.3" font-weight="bold" text-anchor="middle" fill="#111" stroke="#111" stroke-width="0.16" >275</text>
<text x="92.4" y="87.9" font-size="6.3" font-weight="bold" text-anchor="middle" fill="#111" stroke="#111" stroke-width="0.16" >445</text>
<text x="160.7" y="82.6" font-size="6.3" font-weight="bold" text-anchor="middle" fill="#111" stroke="#111" stroke-width="0.16" >800</text>
<text x="169.6" y="75.7" font-size="6.3" font-weight="bold" text-anchor="middle" fill="#111" stroke="#111" stroke-width="0.16" >813</text>
<text x="174.8" y="67.6" font-size="6.3" font-weight="bold" text-anchor="middle" fill="#111" stroke="#111" stroke-width="0.16" >860</text>
<text x="180.6" y="54.9" font-size="6.3" font-weight="bold" text-anchor="middle" fill="#111" stroke="#111" stroke-width="0.16" >874</text>
<text x="192.4" y="17.3" font-size="6.3" font-weight="bold" text-anchor="middle" fill="#111" stroke="#111" stroke-width="0.16" >917</text>
<text x="66.4" y="115.7" font-size="6.3" font-weight="bold" text-anchor="middle" fill="#111" stroke="#111" stroke-width="0.16" >320</text>
<text x="191.6" y="112.9" font-size="6.3" font-weight="bold" text-anchor="middle" fill="#111" stroke="#111" stroke-width="0.16" >912</text>
<text x="189.7" y="197.8" font-size="6.3" font-weight="bold" text-anchor="middle" fill="#111" stroke="#111" stroke-width="0.16" >909</text>
<text x="290.5" y="108.7" font-size="6.3" font-weight="bold" text-anchor="middle" fill="#111" stroke="#111" stroke-width="0.16" >122</text>
<text x="297.5" y="116.2" font-size="6.3" font-weight="bold" text-anchor="middle" fill="#111" stroke="#111" stroke-width="0.16" >155</text>
<text x="307.5" y="121.0" font-size="6.3" font-weight="bold" text-anchor="middle" fill="#111" stroke="#111" stroke-width="0.16" >193</text>
<text x="323.1" y="108.4" font-size="6.3" font-weight="bold" text-anchor="middle" fill="#111" stroke="#111" stroke-width="0.16" >289</text>
<text x="326.5" y="95.3" font-size="6.3" font-weight="bold" text-anchor="middle" fill="#111" stroke="#111" stroke-width="0.16" >309</text>
<text x="336.7" y="90.7" font-size="6.3" font-weight="bold" text-anchor="middle" fill="#111" stroke="#111" stroke-width="0.16" >321</text>
<text x="363.2" y="130.1" font-size="6.3" font-weight="bold" text-anchor="middle" fill="#111" stroke="#111" stroke-width="0.16" >445</text>
<text x="322.6" y="155.9" font-size="6.3" font-weight="bold" text-anchor="middle" fill="#111" stroke="#111" stroke-width="0.16" >275</text>
<text x="334.6" y="152.3" font-size="6.3" font-weight="bold" text-anchor="middle" fill="#111" stroke="#111" stroke-width="0.16" >320</text>
<text x="445.6" y="100.7" font-size="6.3" font-weight="bold" text-anchor="middle" fill="#111" stroke="#111" stroke-width="0.16" >820</text>
<text x="453.4" y="92.8" font-size="6.3" font-weight="bold" text-anchor="middle" fill="#111" stroke="#111" stroke-width="0.16" >846</text>
<text x="458.6" y="85.9" font-size="6.3" font-weight="bold" text-anchor="middle" fill="#111" stroke="#111" stroke-width="0.16" >878</text>
<text x="462" y="55.1" font-size="6.3" font-weight="bold" text-anchor="middle" fill="#111" stroke="#111" stroke-width="0.16" >891</text>
<text x="469" y="20.9" font-size="6.3" font-weight="bold" text-anchor="middle" fill="#111" stroke="#111" stroke-width="0.16" >904</text>
<text x="478.6" y="41.3" font-size="6.3" font-weight="bold" text-anchor="middle" fill="#111" stroke="#111" stroke-width="0.16" >917</text>
<text x="471" y="141.7" font-size="6.3" font-weight="bold" text-anchor="middle" fill="#111" stroke="#111" stroke-width="0.16" >912</text>
<text x="438.1" y="106.6" font-size="5.5" font-weight="normal" text-anchor="middle" fill="#111"  stroke="#111" stroke-width="0.3">800</text>
<text x="470" y="189.4" font-size="5.7" font-weight="normal" text-anchor="middle" fill="#111"  stroke="#111" stroke-width="0.3">909</text>
<text x="215.8" y="94.5" font-size="6.4" font-weight="bold" text-anchor="start" fill="#111" stroke="#111" stroke-width="0.16" >7.9MoO<tspan font-size="4" dy="1.3">3</tspan><tspan dy="-1.3">/MgO</tspan></text>
<text x="215.4" y="154.9" font-size="6.4" font-weight="bold" text-anchor="start" fill="#111" stroke="#111" stroke-width="0.16" >3.3MoO<tspan font-size="4" dy="1.3">3</tspan><tspan dy="-1.3">//MgO</tspan></text>
<text x="214.6" y="202.0" font-size="6.4" font-weight="bold" text-anchor="start" fill="#111" stroke="#111" stroke-width="0.16" >0.5MoO<tspan font-size="4" dy="1.3">3</tspan><tspan dy="-1.3">/MgO</tspan></text>
<text x="215.9" y="215.8" font-size="6.4" font-weight="bold" text-anchor="start" fill="#111" stroke="#111" stroke-width="0.16" >MgO</text>
<text x="495.6" y="147.3" font-size="6.4" font-weight="bold" text-anchor="start" fill="#111" stroke="#111" stroke-width="0.16" >7.1MoO<tspan font-size="4" dy="1.3">3</tspan><tspan dy="-1.3">/Li/MgO</tspan></text>
<text x="495.6" y="166.3" font-size="6.4" font-weight="bold" text-anchor="start" fill="#111" stroke="#111" stroke-width="0.16" >3.6MoO<tspan font-size="4" dy="1.3">3</tspan><tspan dy="-1.3">/Li/MgO</tspan></text>
<text x="495.4" y="194.9" font-size="6.4" font-weight="bold" text-anchor="start" fill="#111" stroke="#111" stroke-width="0.16" >0.5MoO<tspan font-size="4" dy="1.3">3</tspan><tspan dy="-1.3">/Li/MgO</tspan></text>
<text x="496.4" y="213.4" font-size="6.4" font-weight="bold" text-anchor="start" fill="#111" stroke="#111" stroke-width="0.16" >Li/MgO</text>
</svg></body></html>
